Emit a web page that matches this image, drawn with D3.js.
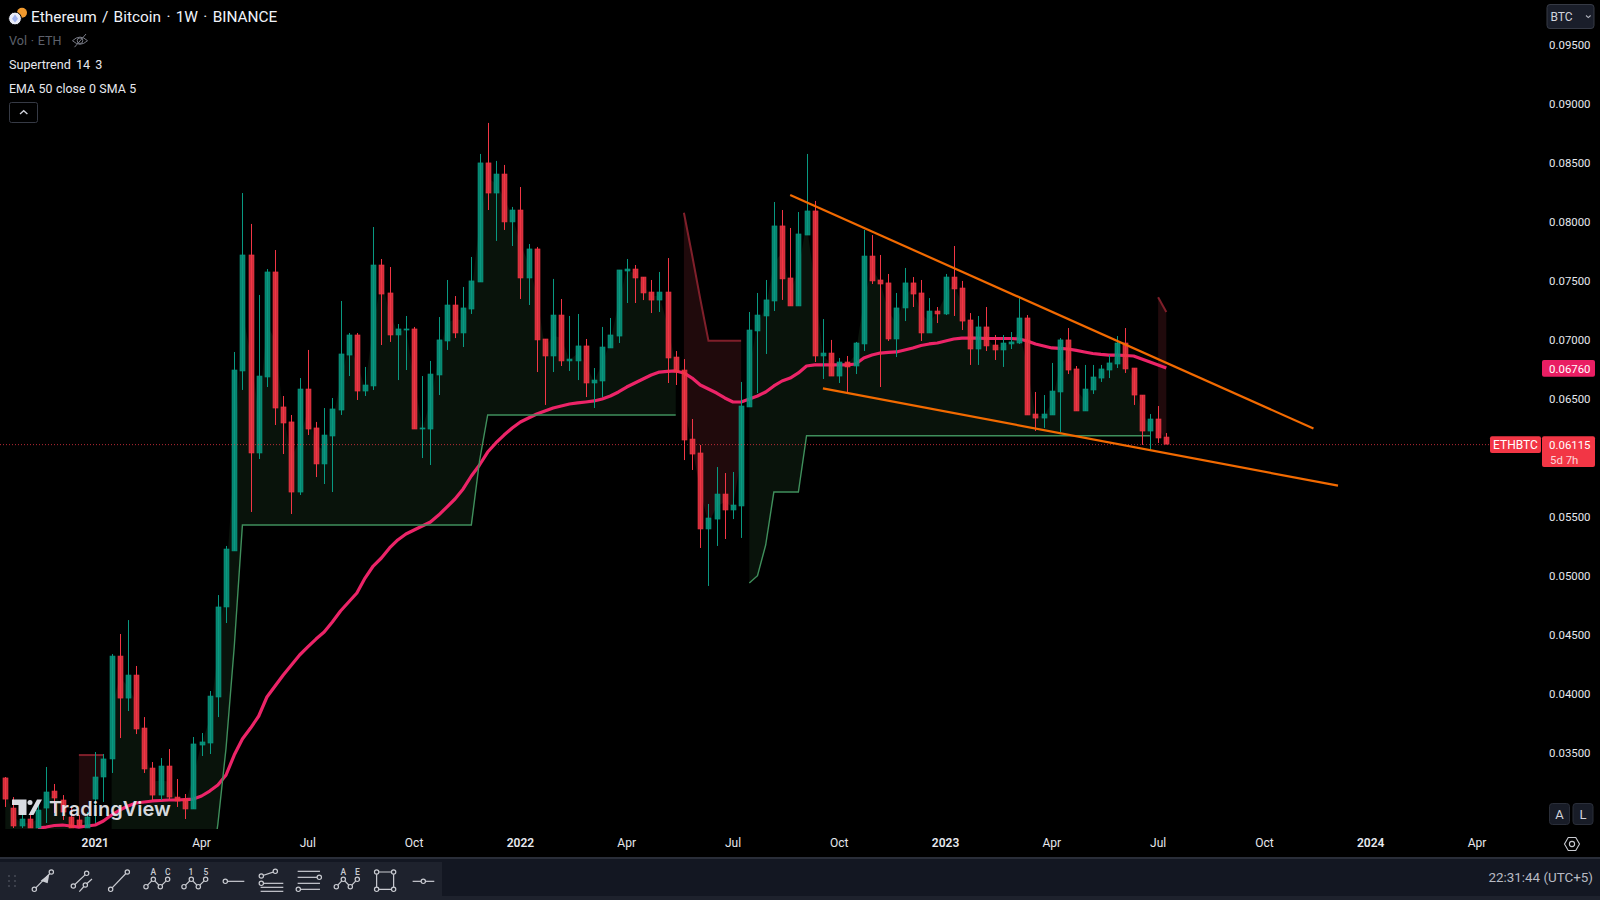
<!DOCTYPE html>
<html><head><meta charset="utf-8"><title>ETHBTC</title>
<script src="https://cdnjs.cloudflare.com/ajax/libs/d3/7.8.5/d3.min.js"></script>
<style>
html,body{margin:0;padding:0;background:#000;overflow:hidden}
svg{display:block}
text{font-family:Roboto,"Noto Sans",sans-serif}
</style></head><body>
<svg id="c" width="1600" height="900"></svg>
<script>
// All prices are in units of 0.00001 BTC
const opens=[3286,3031,2879,2938,2862,3031,3175,3099,2955,2930,2862,3107,3294,3447,4319,3963,4158,3709,3370,3141,3387,3124,3107,3023,3565,3582,3972,4735,5210,6735,7718,6040,6684,7574,6430,6303,5709,6582,6252,5947,6184,6404,6870,7040,6565,6608,7633,7396,7040,7082,7091,6243,6243,6701,6989,7294,7057,7260,7489,8498,8243,8404,7998,8099,7523,7769,7006,6862,7209,6820,6820,6947,6633,6650,6930,7031,7582,7599,7531,7404,7336,7404,6853,6743,6158,6040,5396,5480,5692,5557,5591,6430,7074,7201,7328,7964,7523,7286,7887,8091,6862,6887,6692,6811,6777,6964,7709,7506,7481,7006,7269,7481,7396,7057,7243,7218,7531,7438,7167,6921,7108,6955,6913,6964,6972,7184,6370,6336,6362,6557,6998,6752,6396,6574,6675,6743,6794,6972,6760,6531,6226,6328,6175];
const highs=[3294,3124,2989,2972,3074,3379,3235,3141,3040,2972,2997,3506,3489,4336,4506,4624,4235,3802,3421,3455,3531,3277,3150,3633,3667,4023,4836,5252,6896,8243,7981,7379,7599,7760,6523,6362,6675,6913,6303,6421,6506,7328,7057,7057,6769,7955,7684,7616,7133,7201,7108,6692,6820,7192,7506,7370,7447,7701,8574,8837,8515,8481,8125,8294,7811,7786,7006,7515,7345,7201,7218,7006,6760,7108,7184,7591,7684,7633,7531,7506,7574,7692,6904,6836,6328,6108,5608,5921,5870,5879,6642,7235,7396,7506,8167,8099,7947,8082,8574,8176,7175,6998,6845,6862,6981,7930,7887,7718,7557,7396,7608,7531,7506,7353,7277,7557,7794,7498,7226,7201,7277,7040,7040,7065,7353,7209,6557,6531,6803,7014,7099,6777,6786,6786,6786,6870,7031,7099,6760,6531,6370,6438,6209];
const lows=[3040,2862,2862,2862,2862,2904,2989,2930,2862,2862,2862,2904,3082,3328,3624,3853,3658,3328,3099,3099,3099,3040,2938,3023,3472,3489,3802,4599,5210,6574,5540,5989,6599,6277,6031,5523,5684,6192,5836,5777,5709,6362,6692,6489,6523,6574,6955,6981,6658,6743,6243,5997,5938,6531,6913,7014,6938,7218,7489,8099,7837,7930,7794,7345,7294,6726,6447,6726,6777,6735,6658,6514,6421,6514,6930,6972,7311,7311,7336,7226,7235,6633,6616,5980,5896,5235,4913,5252,5311,5480,5320,6430,6548,6879,7243,7337,7286,7286,7887,6811,6667,6692,6633,6557,6709,6904,7472,6599,6989,6853,7158,7277,6989,7057,7141,7209,7201,7082,6786,6786,6904,6828,6769,6921,6964,6362,6226,6252,6362,6218,6709,6396,6396,6540,6642,6675,6760,6718,6447,6108,6065,6125,6115];
const closes=[3107,2879,2938,2862,3014,3167,3116,2997,2862,2879,2955,3294,3447,4319,3963,4158,3701,3362,3141,3387,3124,3091,3023,3574,3591,3980,4735,5226,6743,7718,6040,6692,7574,6421,6294,5709,6582,6243,5947,6192,6413,6879,7040,6565,6616,7633,7387,7040,7091,7091,6243,6252,6709,6998,7294,7057,7269,7498,8498,8243,8404,7998,8099,7523,7769,6998,6862,7209,6820,6836,6947,6633,6658,6938,7040,7591,7599,7523,7396,7336,7404,6845,6726,6150,6031,5396,5489,5692,5557,5599,6438,7082,7209,7337,7964,7515,7286,7896,8091,6862,6887,6692,6811,6769,6972,7709,7498,7472,7006,7269,7481,7387,7057,7243,7218,7531,7430,7158,6921,7108,6947,6913,6972,6981,7184,6362,6336,6370,6565,6998,6743,6396,6582,6684,6752,6803,6972,6752,6531,6226,6328,6167,6115];
// EMA 50 starts at bar 4
const emaStart=4;
const ema=[2862,2870,2883,2887,2879,2870,2879,2887,2921,2972,3014,3048,3074,3082,3091,3095,3099,3099,3103,3107,3133,3175,3226,3311,3480,3616,3709,3811,3972,4065,4158,4243,4328,4396,4463,4523,4608,4701,4777,4853,4980,5082,5150,5235,5303,5353,5387,5421,5455,5514,5582,5650,5735,5845,5938,6048,6125,6192,6252,6303,6336,6370,6396,6421,6438,6455,6464,6472,6481,6498,6523,6557,6599,6633,6667,6701,6726,6731,6735,6718,6675,6616,6582,6548,6506,6472,6472,6498,6523,6557,6608,6650,6675,6718,6777,6786,6786,6786,6786,6786,6794,6845,6870,6887,6892,6896,6913,6930,6951,6964,6972,6989,7006,7014,7014,7014,7010,7010,7010,7010,7006,6989,6964,6947,6930,6926,6921,6909,6896,6883,6875,6870,6870,6866,6862,6836,6811,6786,6760];
// Supertrend 14 3: value per bar and direction per bar (1 up, -1 down)
const stValues=[2400,2400,2400,2400,2400,2400,2400,2400,2400,3480,3480,3480,3480,2400,2400,2400,2400,2400,2400,2400,2400,2400,2400,2400,2400,2400,2896,3540,4396,5430,5430,5430,5430,5430,5430,5430,5430,5430,5430,5430,5430,5430,5430,5430,5430,5430,5430,5430,5430,5430,5430,5430,5430,5430,5430,5430,5430,5430,5972,6362,6362,6362,6362,6362,6362,6362,6362,6362,6362,6362,6362,6362,6362,6362,6362,6362,6362,6362,6362,6362,6362,6362,6362,8076,7718,7345,6992,6992,6992,6992,6992,4938,5000,5260,5709,5709,5709,5709,6186,6186,6186,6186,6186,6186,6186,6186,6186,6186,6186,6186,6186,6186,6186,6186,6186,6186,6186,6186,6186,6186,6186,6186,6186,6186,6186,6186,6186,6186,6186,6186,6186,6186,6186,6186,6186,6186,6186,6186,6186,6186,6186,7359,7235];
const stDirs=stValues.map((_,i)=>((i>=9&&i<=12)||(i>=83&&i<=90)||i>=141)?-1:1);
// Orange trend lines: [bar number, price] pairs
const upperTrend=[[96,8226],[160,6247]];
const lowerTrend=[[100,6588],[163,5763]];
const priceTicks=[3500,4000,4500,5000,5500,6500,7000,7500,8000,8500,9000,9500];
const timeTickDates=["2021-01-04","2021-04-05","2021-07-05","2021-10-04","2022-01-03","2022-04-04","2022-07-04","2022-10-03","2023-01-02","2023-04-03","2023-07-03","2023-10-02","2024-01-01","2024-04-01"];
const timeTickLabels=["2021","Apr","Jul","Oct","2022","Apr","Jul","Oct","2023","Apr","Jul","Oct","2024","Apr"];
const lastPrice=6115, emaPrice=6760;

const firstBar=new Date(Date.UTC(2020,9,19));
const barDate=i=>d3.utcMonday.offset(firstBar,i);
const x=d3.scaleUtc().domain([firstBar,barDate(opens.length-1)]).range([5.3,1166.3]);
const y=d3.scaleLinear().domain([3500,9500]).range([752.7,44.7]);
const GREEN="#089981",RED="#f23645",PINK="#ec2468",ORANGE="#f26a00";
const fmt=d=>(d/1e5).toFixed(5);

const svg=d3.select("#c");
svg.append("rect").attr("width",1600).attr("height",900).attr("fill","#000");
const defs=svg.append("defs");
defs.append("clipPath").attr("id","pane").append("rect").attr("x",0).attr("y",0).attr("width",1490).attr("height",829);
const pane=svg.append("g").attr("clip-path","url(#pane)");

const bars=opens.map((o,i)=>({i,o,h:highs[i],l:lows[i],c:closes[i],st:stValues[i],dir:stDirs[i],d:barDate(i)}));

// Supertrend segments
const segs=[];bars.forEach(b=>{const s=segs[segs.length-1];if(s&&s.dir===b.dir)s.bars.push(b);else segs.push({dir:b.dir,bars:[b]});});
const area=d3.area().x(b=>x(b.d)).y0(b=>y(b.st)).y1(b=>y((b.o+b.c)/2));
const line=d3.line().x(b=>x(b.d)).y(b=>y(b.st));
pane.append("g").selectAll("path").data(segs).join("path").attr("d",s=>area(s.bars))
  .attr("fill",s=>s.dir>0?"rgb(9,19,11)":"rgb(32,10,12)");
pane.append("path").attr("fill","none").attr("stroke",PINK).attr("stroke-width",3.2).attr("stroke-linejoin","round")
  .attr("d",d3.line().x((v,k)=>x(barDate(k+emaStart))).y(v=>y(v))(ema));
pane.append("g").selectAll("path").data(segs).join("path").attr("d",s=>line(s.bars)).attr("fill","none")
  .attr("stroke",s=>s.dir>0?"#3f8f5c":"#7f1f2a").attr("stroke-width",s=>s.dir>0?1.4:2);

// Candles
const cg=pane.append("g").selectAll("g").data(bars).join("g");
const col=b=>b.c>=b.o?GREEN:RED;
cg.append("line").attr("x1",b=>Math.round(x(b.d))+.5).attr("x2",b=>Math.round(x(b.d))+.5)
  .attr("y1",b=>y(b.h)).attr("y2",b=>y(b.l)).attr("stroke",col).attr("stroke-width",1);
cg.append("rect").attr("x",b=>Math.round(x(b.d))-2).attr("width",5)
  .attr("y",b=>y(Math.max(b.o,b.c))).attr("height",b=>Math.max(1,Math.abs(y(b.o)-y(b.c))))
  .attr("fill",col).attr("fill-opacity",.86).attr("stroke",col).attr("stroke-width",.6);

// Last price dotted line
pane.append("line").attr("x1",0).attr("x2",1490).attr("y1",y(lastPrice)+.5).attr("y2",y(lastPrice)+.5)
  .attr("stroke",RED).attr("stroke-opacity",.75).attr("stroke-dasharray","1 2");

// Trend lines
const tl=d3.line().x(p=>x(barDate(p[0]))).y(p=>y(p[1]));
pane.selectAll("path.tr").data([upperTrend,lowerTrend]).join("path").attr("class","tr").attr("d",tl)
  .attr("fill","none").attr("stroke",ORANGE).attr("stroke-width",2.2);

// Watermark
const wm=svg.append("g").attr("fill","#eceef4").attr("fill-opacity",.92);
wm.append("path").attr("d","M12 799.5H26.5V815H18.5V805H12Z");
wm.append("circle").attr("cx",30).attr("cy",802.5).attr("r",2.5);
wm.append("path").attr("d","M37 799.5H42L33.5 815H28.5Z");
wm.append("text").attr("x",49).attr("y",815.5).attr("font-size",20).attr("font-weight",600).attr("style","font-family:Inter,Roboto,sans-serif").text("TradingView");

// Axes
const yAxis=d3.axisRight(y).tickValues(priceTicks).tickFormat(fmt).tickSize(0).tickPadding(0);
const ya=svg.append("g").attr("transform","translate(1590.5,0)").call(yAxis);
ya.select(".domain").remove();
ya.selectAll("text").attr("text-anchor","end").attr("fill","#e6e8ee").attr("font-size",11.4).style("font-family","Roboto,sans-serif").attr("dy","0.35em");
const tickDates=timeTickDates.map(s=>new Date(s+"T00:00:00Z"));
const xAxis=d3.axisBottom(x).tickValues(tickDates).tickFormat((d,i)=>timeTickLabels[i]).tickSize(0).tickPadding(0);
const xa=svg.append("g").attr("transform","translate(-0.5,838)").call(xAxis);
xa.select(".domain").remove();
xa.selectAll("text").attr("fill","#e6e8ee").attr("font-size",12).attr("font-weight",(d,i)=>/^\d/.test(timeTickLabels[i])?600:400).style("font-family","Roboto,sans-serif");

// Price tags
function tag(xx,yy,w,h,fill,r){svg.append("rect").attr("x",xx).attr("y",yy).attr("width",w).attr("height",h).attr("rx",r===undefined?2:r).attr("fill",fill);}
function txt(s,xx,yy,size,fill,anchor,weight){return svg.append("text").attr("x",xx).attr("y",yy).attr("font-size",size).attr("fill",fill).attr("text-anchor",anchor||"start").attr("font-weight",weight||400).attr("dominant-baseline","central").text(s);}
tag(1542,y(emaPrice)-8,53,16.8,"#e91e63");
txt(fmt(emaPrice),1590.5,y(emaPrice)+.8,11.4,"#fff","end");
tag(1490,y(lastPrice)-8,51,16.8,RED);
txt("ETHBTC",1515.5,y(lastPrice)+.8,12,"#fff","middle");
tag(1542,y(lastPrice)-8,53,30.8,RED);
txt(fmt(lastPrice),1590.5,y(lastPrice)+.8,11.4,"#fff","end");
txt("5d 7h",1550,y(lastPrice)+15.4,11.4,"#ffffffcc");

// Legend
const lg=svg.append("g");
lg.append("circle").attr("cx",22).attr("cy",12.8).attr("r",5).attr("fill","#f29a2e");
lg.append("circle").attr("cx",15).attr("cy",18.5).attr("r",6.4).attr("fill","#e9ecf8").attr("stroke","#000").attr("stroke-width",1);
lg.append("path").attr("d","M15 14.5L18 18.8L15 22.5L12 18.8Z").attr("fill","#9fb1ee");
txt("Ethereum / Bitcoin · 1W · BINANCE",31,16.8,15.4,"#f0f3fa").attr("word-spacing",1.5);
txt("Vol · ETH",9,40.5,12.6,"#5d606b").attr("word-spacing",.6);
const eye=svg.append("g").attr("fill","none").attr("stroke","#787b86").attr("stroke-width",1);
eye.append("path").attr("d","M72.5 40.7Q80 33.5 87.5 40.7Q80 47.8 72.5 40.7Z");
eye.append("circle").attr("cx",80).attr("cy",40.7).attr("r",2.8);
eye.append("path").attr("d","M74.5 47.2L86 34");
txt("Supertrend 14 3",9,64.5,12.6,"#e6e8ee").attr("word-spacing",2);
txt("EMA 50 close 0 SMA 5",9,88.7,12.4,"#e6e8ee").attr("word-spacing",.4);
svg.append("rect").attr("x",9.5).attr("y",102.5).attr("width",28).attr("height",20).attr("rx",2).attr("fill","none").attr("stroke","#363a45");
svg.append("path").attr("d","M20 114L23.7 110.7L27.4 114").attr("fill","none").attr("stroke","#d1d4dc").attr("stroke-width",1.3);

// Currency button
svg.append("rect").attr("x",1547).attr("y",4.5).attr("width",47).attr("height",24).attr("rx",3).attr("fill","#1a1e2a").attr("stroke","#363a45");
txt("BTC",1550.5,17.3,12,"#d1d4dc");
svg.append("path").attr("d","M1586 15.5L1588.3 17.6L1590.6 15.5").attr("fill","none").attr("stroke","#b2b5be").attr("stroke-width",1.1);

// A / L and settings
[["A",1549.5],["L",1573]].forEach(([t,xx])=>{
  svg.append("rect").attr("x",xx).attr("y",803.5).attr("width",20).attr("height",21).attr("rx",3).attr("fill","#181c27").attr("stroke","#2a2e39");
  txt(t,xx+10,814.3,13,"#d1d4dc","middle");
});
const cx=1572,cy=844,hr=7.5;
svg.append("path").attr("d",d3.range(6).map(k=>{const a=k*Math.PI/3;return (k?"L":"M")+(cx+hr*Math.cos(a))+" "+(cy+hr*Math.sin(a));}).join("")+"Z").attr("fill","none").attr("stroke","#c8cad0").attr("stroke-width",1.1);
svg.append("circle").attr("cx",cx).attr("cy",cy).attr("r",2.6).attr("fill","none").attr("stroke","#c8cad0").attr("stroke-width",1.1);

// Bottom toolbar
tag(0,857,1600,43,"#131722",0);
tag(0,857,1600,2,"#2a2e39",0);
tag(442,896,1158,4,"#1e222d",0);
tag(0,862,442,38,"#1e222d",0);
txt("22:31:44 (UTC+5)",1593,877,13.4,"#b8bbc4","end");
const tb=svg.append("g").attr("transform","translate(0,850) scale(.3333)").attr("stroke","#c9cbd1").attr("stroke-width",3.6).attr("fill","none");
[[27,78],[45,78],[27,93],[45,93],[27,108],[45,108]].forEach(p=>tb.append("rect").attr("x",p[0]-2.5).attr("y",p[1]-2.5).attr("width",5).attr("height",5).attr("fill","#4a4e5a").attr("stroke","none"));
const seg=s=>tb.append("path").attr("d",s);
["M103 118L154 66","M220 108L260 70","M256 105L238 125","M256 105L276 87","M332 118L382 66",
 "M438 110L460 88L481 110L503 88","M552 110L574 88L595 110L617 88","M676 94L733 94",
 "M784 78L826 64","M784 100L850 100","M782 112L850 112","M782 124L850 124",
 "M893 64L960 64","M893 82L958 82","M893 100L960 100","M895 118L960 118",
 "M1009 110L1030 88L1051 110L1072 88","M1130 66L1181 66L1181 118L1130 118Z","M1238 94L1303 94"].forEach(seg);
tb.append("path").attr("d","M122 92L148 72L143 100Z").attr("fill","#c9cbd1").attr("stroke","none");
[[103,118],[154,66],[220,108],[260,70],[256,105],[332,118],[382,66],[438,110],[460,88],[481,110],[503,88],
 [552,110],[574,88],[595,110],[617,88],[676,94],[784,78],[826,64],[784,100],[958,82],[895,118],
 [1009,110],[1030,88],[1051,110],[1072,88],[1130,66],[1181,66],[1181,118],[1130,118],[1270,94]]
 .forEach(p=>tb.append("circle").attr("cx",p[0]).attr("cy",p[1]).attr("r",6.5).attr("fill","#1e222d"));
[["A",460,64],["C",503,64],["1",573,64],["5",618,64],["A",1030,64],["E",1072,64]].forEach(t=>
 svg.append("text").attr("x",t[1]/3).attr("y",850+t[2]/3+.2).attr("text-anchor","middle").attr("dominant-baseline","central")
  .attr("font-size",8.5).attr("font-weight",500).attr("fill","#c9cbd1").text(t[0]));
</script></body></html>
